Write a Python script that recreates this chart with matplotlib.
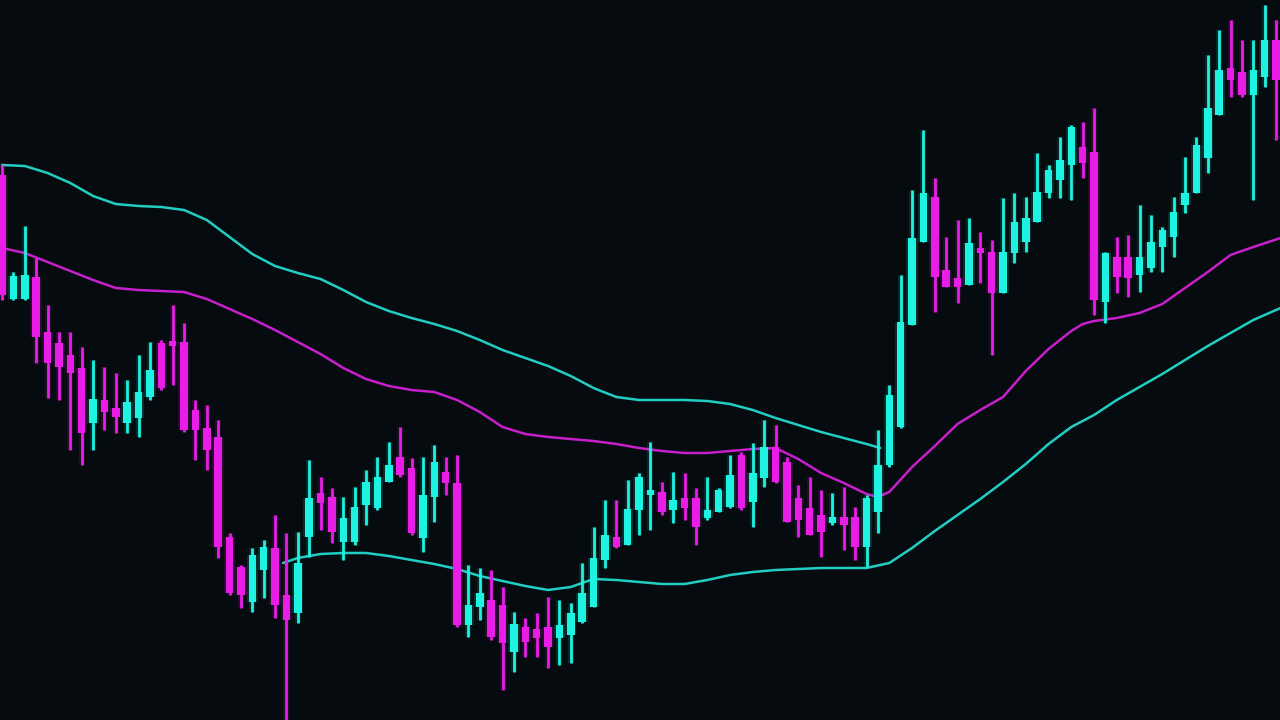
import numpy as np
import matplotlib
matplotlib.use("Agg")
import matplotlib.pyplot as plt

# candle data (one candle per period)
opens = [545, 421, 421, 443, 388, 377, 365, 352, 297, 320, 312, 297, 302, 323, 377, 379, 378,
         310, 292, 283, 183, 153, 118, 150, 172, 125, 107, 183, 227, 223, 178, 178,
         215, 212, 238, 263, 252, 182, 223, 248, 237, 95, 113, 120, 115, 68,
         93, 91, 93, 82, 85, 98, 113, 160, 183, 175, 210, 225, 228, 210,
         222, 222, 202, 208, 213, 265, 218, 242, 273, 258, 222, 212, 205, 197, 203, 203,
         173, 208, 255, 293, 395, 478, 523, 450, 442, 435, 472, 468, 427, 467, 478, 498, 527,
         540, 555, 573, 568, 418, 463, 463, 445, 452, 473, 483, 515, 527, 562, 605, 652, 648, 625, 643, 680]
highs = [555, 448, 494, 462, 415, 388, 388, 373, 360, 353, 347, 340, 365, 378, 380, 415, 397,
         320, 315, 300, 187, 155, 172, 180, 205, 187, 188, 260, 243, 232, 223, 233,
         250, 263, 278, 293, 262, 263, 275, 263, 265, 155, 152, 150, 133, 108,
         102, 107, 123, 120, 117, 157, 193, 220, 220, 240, 247, 278, 238, 248,
         247, 232, 243, 232, 265, 268, 277, 300, 295, 263, 235, 243, 230, 227, 233, 213,
         225, 290, 335, 445, 530, 590, 542, 483, 500, 502, 488, 480, 522, 527, 523, 567, 555,
         583, 595, 598, 612, 468, 483, 485, 515, 505, 493, 523, 563, 583, 665, 690, 700, 680, 680, 715, 700]
lows = [420, 420, 420, 357, 322, 320, 270, 255, 270, 290, 287, 287, 283, 320, 330, 335, 288,
        260, 250, 162, 125, 112, 108, 122, 102, 0, 97, 163, 190, 177, 160, 175,
        195, 210, 238, 243, 185, 168, 198, 225, 93, 83, 100, 80, 30, 48,
        63, 63, 52, 55, 57, 97, 113, 152, 172, 175, 185, 190, 205, 197,
        200, 175, 200, 208, 212, 210, 193, 233, 237, 198, 183, 185, 163, 195, 170, 160,
        153, 187, 253, 292, 395, 478, 408, 433, 417, 435, 437, 365, 427, 457, 468, 498, 522,
        522, 520, 542, 405, 397, 427, 423, 428, 448, 448, 463, 507, 527, 547, 605, 623, 623, 520, 633, 580]
closes = [425, 444, 445, 383, 357, 353, 347, 287, 321, 308, 303, 318, 328, 350, 332, 374, 290,
          290, 270, 173, 127, 125, 165, 173, 115, 100, 157, 222, 217, 188, 202, 213,
          238, 243, 255, 245, 187, 225, 258, 237, 95, 115, 127, 83, 77, 96,
          78, 82, 73, 95, 107, 127, 162, 185, 173, 211, 243, 230, 208, 220,
          212, 193, 210, 230, 245, 212, 247, 273, 238, 198, 200, 185, 188, 203, 195, 173,
          222, 255, 325, 398, 482, 527, 443, 433, 433, 477, 467, 427, 468, 498, 502, 528, 550,
          560, 593, 557, 420, 467, 443, 442, 463, 478, 490, 508, 527, 575, 612, 650, 640, 625, 650, 680, 640]

# band lines, sampled at candle index positions
upper_x = list(range(0, 77, 2)) + [77.2]
upper_band = [555, 554, 547, 537, 524, 516, 514, 513, 510, 500, 483, 466, 454, 447, 441, 430, 418,
              409, 402, 396, 389, 380, 370, 362, 354, 344, 332, 323, 320, 320, 320, 319, 316,
              310, 302, 295, 288, 282, 276, 272]
mid_x = list(range(0, 77, 2)) + [77, 78] + list(range(80, 95, 2)) + [95, 96] + list(range(98, 111, 2)) + [112.4]
mid_band = [472, 467, 458, 449, 440, 432, 430, 429, 428, 421, 411, 401, 390, 378, 366, 352, 341,
            334, 330, 328, 320, 308, 293, 286, 283, 281, 279, 276, 272, 269, 267, 267, 269,
            271, 272, 261, 247, 237, 226, 223, 228, 253, 274, 296, 310, 323, 349, 371, 389,
            396, 399, 402, 407, 416, 432, 448, 465, 473, 482]
lower_x = [24.7] + list(range(26, 111, 2)) + [112.4]
lower_band = [157, 162, 166, 167, 167, 164, 160, 156, 151, 144, 139, 134, 130, 133, 141, 140,
              138, 136, 136, 140, 145, 148, 150, 151, 152, 152, 152, 157, 172, 189, 205, 221,
              238, 256, 276, 293, 305, 320, 333, 346, 360, 374, 387, 400, 412]

bg = '#050b0e'
up_col = '#1ef2e0'
down_col = '#e81ee6'

fig = plt.figure(figsize=(12.8, 7.2), dpi=100, facecolor=bg)
ax = fig.add_axes([0, 0, 1, 1], facecolor=bg)

o = np.array(opens)
h = np.array(highs)
l = np.array(lows)
c = np.array(closes)
idx = np.arange(len(o))
colors = [up_col if cc >= oo else down_col for oo, cc in zip(o, c)]

# band lines
line_kw = dict(lw=1.8, zorder=2, solid_joinstyle='round', solid_capstyle='round')
ax.plot(upper_x, upper_band, color='#22cdc4', **line_kw)
ax.plot(mid_x, mid_band, color='#c81fcc', **line_kw)
ax.plot(lower_x, lower_band, color='#22cdc4', **line_kw)

# soft glow under candles
ax.vlines(idx, l, h, colors=colors, lw=4.5, alpha=0.12, zorder=3)
ax.bar(idx, np.abs(c - o), bottom=np.minimum(o, c), width=1.0, color=colors, alpha=0.15, zorder=3)

# wicks and bodies
ax.vlines(idx, l, h, colors=colors, lw=2.0, zorder=4)
ax.bar(idx, np.maximum(np.abs(c - o), 3), bottom=np.minimum(o, c), width=0.66, color=colors, zorder=5)

ax.set_xlim(-0.18, 112.35)
ax.set_ylim(0, 720)
ax.axis('off')

fig.savefig('out.png', dpi=100, facecolor=bg)
